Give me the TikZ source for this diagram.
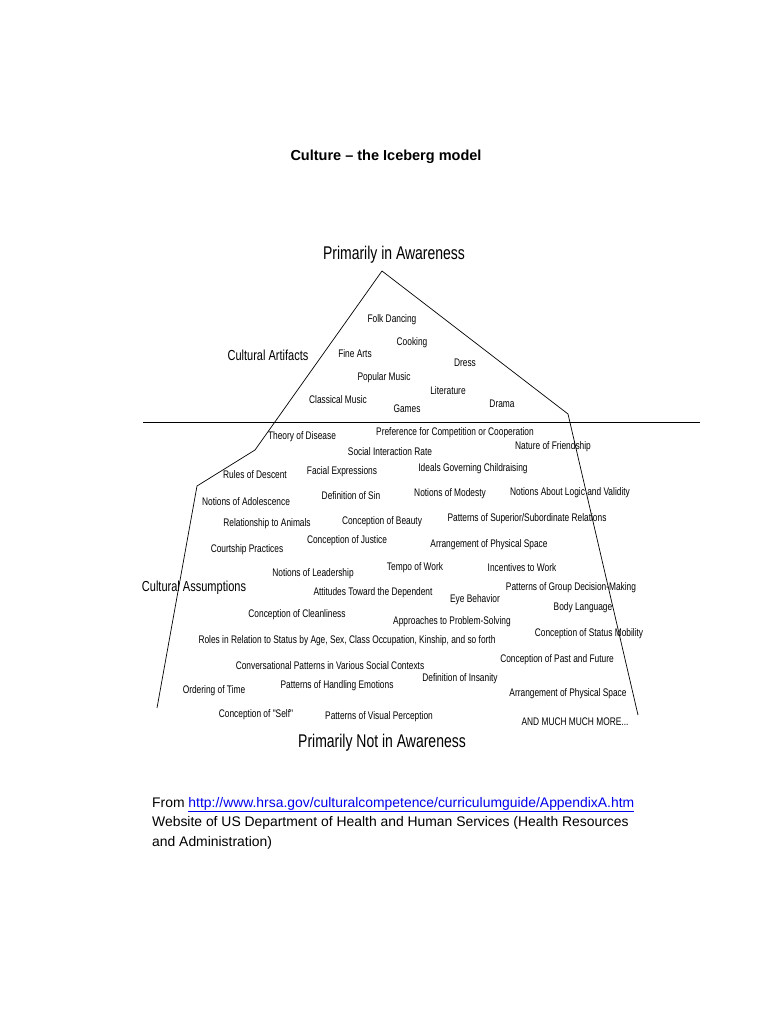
\documentclass[tikz,border=0pt]{standalone}
\usepackage{fontspec}
\setmainfont{Liberation Sans}
\newfontfamily\narrow[FakeStretch=0.76]{Liberation Sans}
\definecolor{linkblue}{RGB}{0,0,238}
\begin{document}
\begin{tikzpicture}[x=1pt,y=-1pt,
  lbl/.style={inner sep=0pt,font=\narrow\fontsize{11}{12}\selectfont},
  big/.style={inner sep=0pt,font=\narrow\fontsize{18.4}{20}\selectfont},
  mid/.style={inner sep=0pt,font=\narrow\fontsize{14.5}{16}\selectfont},
  edge/.style={draw,line width=0.7pt}]
\useasboundingbox (0,0) rectangle (768,1024);
\node[inner sep=0pt,font=\bfseries\fontsize{14.5}{16}\selectfont] (title) at (386,157) {Culture – the Iceberg model};
% outline
\coordinate (apex) at (382,271);
\coordinate (l1) at (255,450);
\coordinate (l2) at (197,486);
\coordinate (l3) at (157,708);
\coordinate (r1) at (568,414);
\coordinate (r2) at (638,715);
\draw[edge] (l3) -- (l2) -- (l1) -- (apex) -- (r1) -- (r2);
\coordinate (wl) at (143,422);
\coordinate (wr) at (700,422);
\draw[line width=0.9pt] (wl) -- (wr);
\node[big] (pa) at (394,255) {Primarily in Awareness};
\node[big] (pna) at (382,743) {Primarily Not in Awareness};
\node[mid] (ca) at (268,355) {Cultural Artifacts};
\node[mid] (cas) at (194,588) {Cultural Assumptions};
\node[lbl] (n1) at (392,320) {Folk Dancing};
\node[lbl] (n2) at (412,343) {Cooking};
\node[lbl] (n3) at (355,354) {Fine Arts};
\node[lbl] (n4) at (465,363) {Dress};
\node[lbl] (n5) at (384,378) {Popular Music};
\node[lbl] (n6) at (448,391) {Literature};
\node[lbl] (n7) at (338,400) {Classical Music};
\node[lbl] (n8) at (407,409) {Games};
\node[lbl] (n9) at (502,404) {Drama};
\node[lbl] (m1) at (302,437) {Theory of Disease};
\node[lbl] (m2) at (455,433) {Preference for Competition or Cooperation};
\node[lbl] (m3) at (553,447) {Nature of Friendship};
\node[lbl] (m4) at (390,452) {Social Interaction Rate};
\node[lbl] (m5) at (255,475) {Rules of Descent};
\node[lbl] (m6) at (342,472) {Facial Expressions};
\node[lbl] (m7) at (473,469) {Ideals Governing Childraising};
\node[lbl] (m8) at (246,502) {Notions of Adolescence};
\node[lbl] (m9) at (351,496) {Definition of Sin};
\node[lbl] (m10) at (450,494) {Notions of Modesty};
\node[lbl] (m11) at (570,493) {Notions About Logic and Validity};
\node[lbl] (m12) at (267,524) {Relationship to Animals};
\node[lbl] (m13) at (382,522) {Conception of Beauty};
\node[lbl] (m14) at (527,519) {Patterns of Superior/Subordinate Relations};
\node[lbl] (m15) at (347,541) {Conception of Justice};
\node[lbl] (m16) at (247,550) {Courtship Practices};
\node[lbl] (m17) at (489,545) {Arrangement of Physical Space};
\node[lbl] (m18) at (415,568) {Tempo of Work};
\node[lbl] (m19) at (522,568) {Incentives to Work};
\node[lbl] (m20) at (313,574) {Notions of Leadership};
\node[lbl] (m21) at (373,593) {Attitudes Toward the Dependent};
\node[lbl] (m22) at (475,600) {Eye Behavior};
\node[lbl] (m23) at (571,588) {Patterns of Group Decision-Making};
\node[lbl] (m24) at (583,608) {Body Language};
\node[lbl] (m25) at (297,615) {Conception of Cleanliness};
\node[lbl] (m26) at (452,622) {Approaches to Problem-Solving};
\node[lbl] (m27) at (589,634) {Conception of Status Mobility};
\node[lbl] (m28) at (347,641) {Roles in Relation to Status by Age, Sex, Class Occupation, Kinship, and so forth};
\node[lbl] (m29) at (557,660) {Conception of Past and Future};
\node[lbl] (m30) at (330,666) {Conversational Patterns in Various Social Contexts};
\node[lbl] (m31) at (460,679) {Definition of Insanity};
\node[lbl] (m32) at (214,691) {Ordering of Time};
\node[lbl] (m33) at (337,686) {Patterns of Handling Emotions};
\node[lbl] (m34) at (568,694) {Arrangement of Physical Space};
\node[lbl] (m35) at (256,715) {Conception of "Self"};
\node[lbl] (m36) at (379,717) {Patterns of Visual Perception};
\node[lbl] (m37) at (575,722) {AND MUCH MUCH MORE...};
\node[inner sep=0pt,anchor=north west,align=left,font=\fontsize{13.9}{19.4}\selectfont] (src) at (152,797)
 {From {\color{linkblue}\underline{http://www.hrsa.gov/culturalcompetence/curriculumguide/AppendixA.htm}}\\
  Website of US Department of Health and Human Services (Health Resources\\
  and Administration)};
\end{tikzpicture}
\end{document}
